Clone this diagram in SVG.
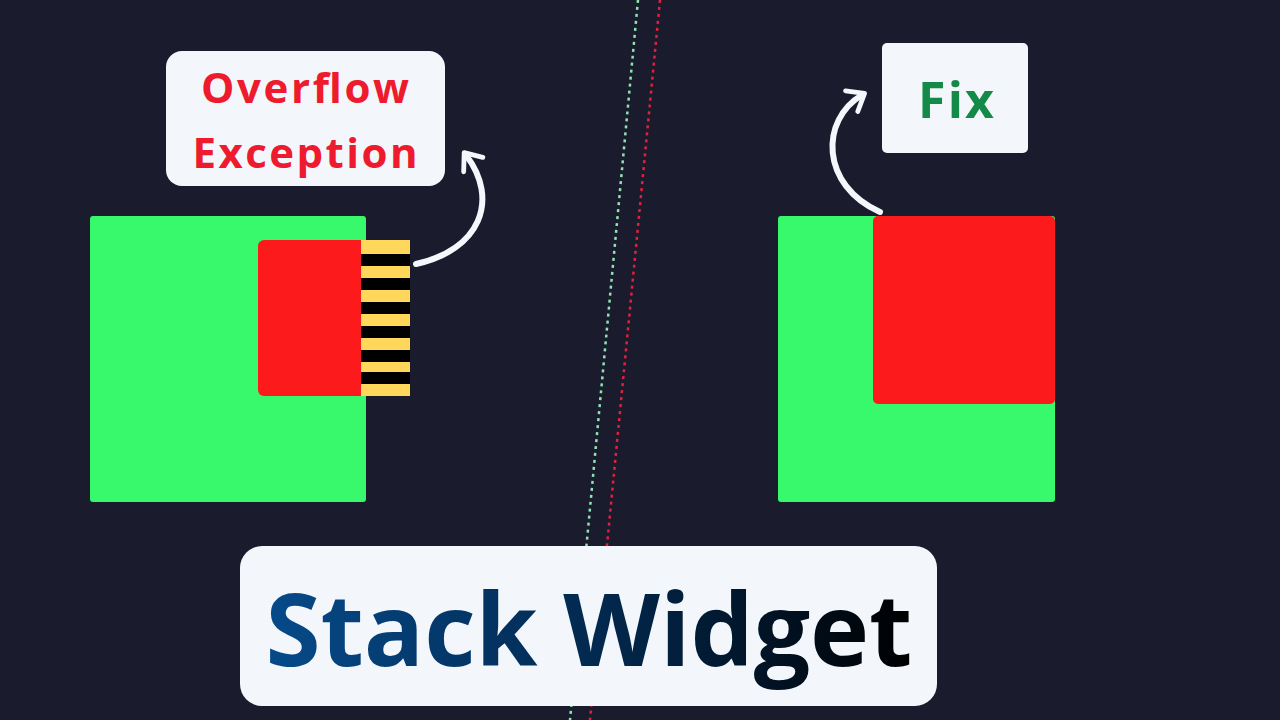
<svg xmlns="http://www.w3.org/2000/svg" width="1280" height="720" viewBox="0 0 1280 720">
<defs>
<linearGradient id="tg" x1="0" x2="1"><stop offset="0" stop-color="#064a8a"/><stop offset="0.55" stop-color="#02264a"/><stop offset="1" stop-color="#000"/></linearGradient>
<marker id="ah" viewBox="0 0 10 10" refX="5" refY="5" markerWidth="5" markerHeight="5" orient="auto"><path d="M1,1 L6,5 L1,9" fill="none" stroke="#f4f8fc" stroke-width="1.6" stroke-linecap="round" stroke-linejoin="round"/></marker>
<style>
.lbl{fill:#f3f7fb}
.t{font-family:"Open Sans","Liberation Sans",sans-serif;font-weight:bold;text-anchor:middle}
.arr{fill:none;stroke:#f4f8fc;stroke-width:6;stroke-linecap:round}
</style>
</defs>
<rect width="1280" height="720" fill="#1b1b2e"/>
<g id="connectors">
<line x1="638" y1="0" x2="570" y2="720" stroke="#8fe3b0" stroke-width="2.5" stroke-dasharray="3 4"/>
<line x1="660" y1="0" x2="590" y2="720" stroke="#e5203a" stroke-width="2.5" stroke-dasharray="3 4"/>
<path class="arr" d="M416,264 C480,250 500,200 466,155" marker-end="url(#ah)"/>
<path class="arr" d="M880,212 C820,185 820,120 862,95" marker-end="url(#ah)"/>
</g>
<g id="left-parent"><rect x="90" y="216" width="276" height="286" rx="3" fill="#38f86b"/></g>
<g id="left-child"><rect x="258" y="240" width="110" height="156" rx="6" fill="#fc1a1c"/></g>
<g id="overflow-stripes">
<rect x="361" y="240" width="49" height="156" fill="#ffd75a"/>
<g fill="#000"><rect x="361" y="254" width="49" height="12"/><rect x="361" y="278" width="49" height="12"/><rect x="361" y="302" width="49" height="12"/><rect x="361" y="326" width="49" height="12"/><rect x="361" y="350" width="49" height="12"/><rect x="361" y="372" width="49" height="12"/></g>
</g>
<g id="overflow-label"><rect class="lbl" x="166" y="51" width="279" height="135" rx="16"/>
<text class="t" x="305" y="103" font-size="42" textLength="208" fill="#ee1a2d">Overflow</text>
<text class="t" x="305" y="168" font-size="42" textLength="225" fill="#ee1a2d">Exception</text></g>
<g id="right-parent"><rect x="778" y="216" width="277" height="286" rx="3" fill="#38f86b"/></g>
<g id="right-child"><rect x="873" y="216" width="182" height="188" rx="5" fill="#fc1a1c"/></g>
<g id="fix-label"><rect class="lbl" x="882" y="43" width="146" height="110" rx="5"/>
<text class="t" x="956" y="118" font-size="50" textLength="76" fill="#148a48">Fix</text></g>
<g id="title"><rect class="lbl" x="240" y="546" width="697" height="160" rx="22"/>
<text class="t" x="589" y="666" font-size="100" textLength="647" fill="url(#tg)">Stack Widget</text></g>
</svg>
